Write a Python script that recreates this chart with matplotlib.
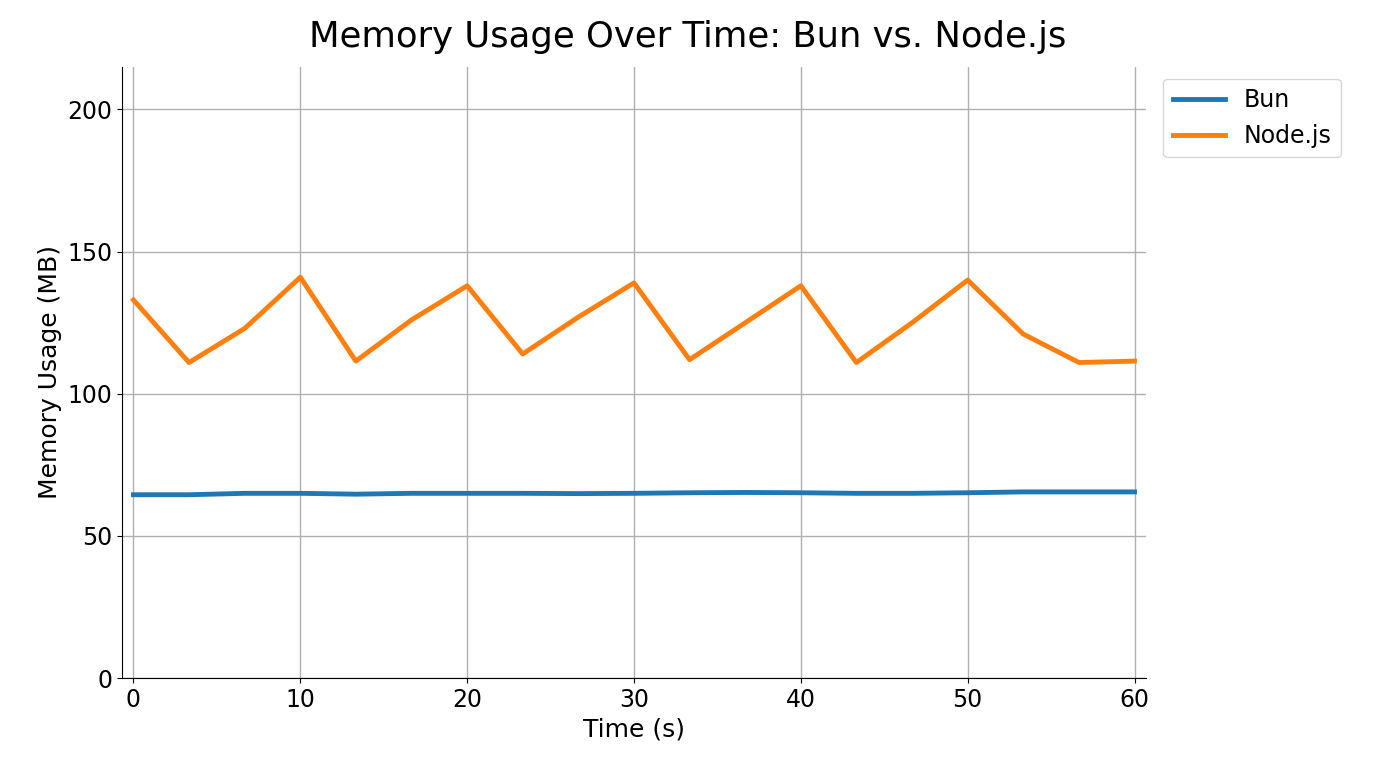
import matplotlib
matplotlib.use("Agg")
import matplotlib.pyplot as plt

time_s = [0, 3.33, 6.67, 10, 13.33, 16.67, 20, 23.33, 26.67, 30, 33.33, 36.67, 40, 43.33, 46.67, 50, 53.33, 56.67, 60]
bun = [64.5, 64.5, 65, 65, 64.7, 65, 65, 65, 64.9, 65, 65.2, 65.3, 65.2, 65, 65, 65.2, 65.5, 65.5, 65.5]
node = [133, 111, 123, 141, 111.5, 126, 138, 114, 127, 139, 112, 125, 138, 111, 125, 140, 121, 111, 111.5]

fig = plt.figure(figsize=(13.76, 7.68), dpi=100)
ax = fig.add_axes([0.089, 0.117, 0.744, 0.796])
ax.plot(time_s, bun, color="#1f77b4", lw=3.5, label="Bun")
ax.plot(time_s, node, color="#ff7f0e", lw=3.5, label="Node.js")
ax.set_xlim(-0.66, 60.7)
ax.set_ylim(0, 215)
ax.set_xticks([0, 10, 20, 30, 40, 50, 60])
ax.set_yticks([0, 50, 100, 150, 200])
ax.grid(True, color="#b0b0b0", lw=1)
ax.spines["top"].set_visible(False)
ax.spines["right"].set_visible(False)
ax.tick_params(labelsize=17)
ax.set_xlabel("Time (s)", fontsize=18)
ax.set_ylabel("Memory Usage (MB)", fontsize=18)
fig.text(0.5, 0.952, "Memory Usage Over Time: Bun vs. Node.js", fontsize=25.5, ha="center", va="center")
ax.legend(loc="upper left", bbox_to_anchor=(1.005, 1.0), fontsize=17, handlelength=2.2)
fig.savefig("out.png", dpi=100)
